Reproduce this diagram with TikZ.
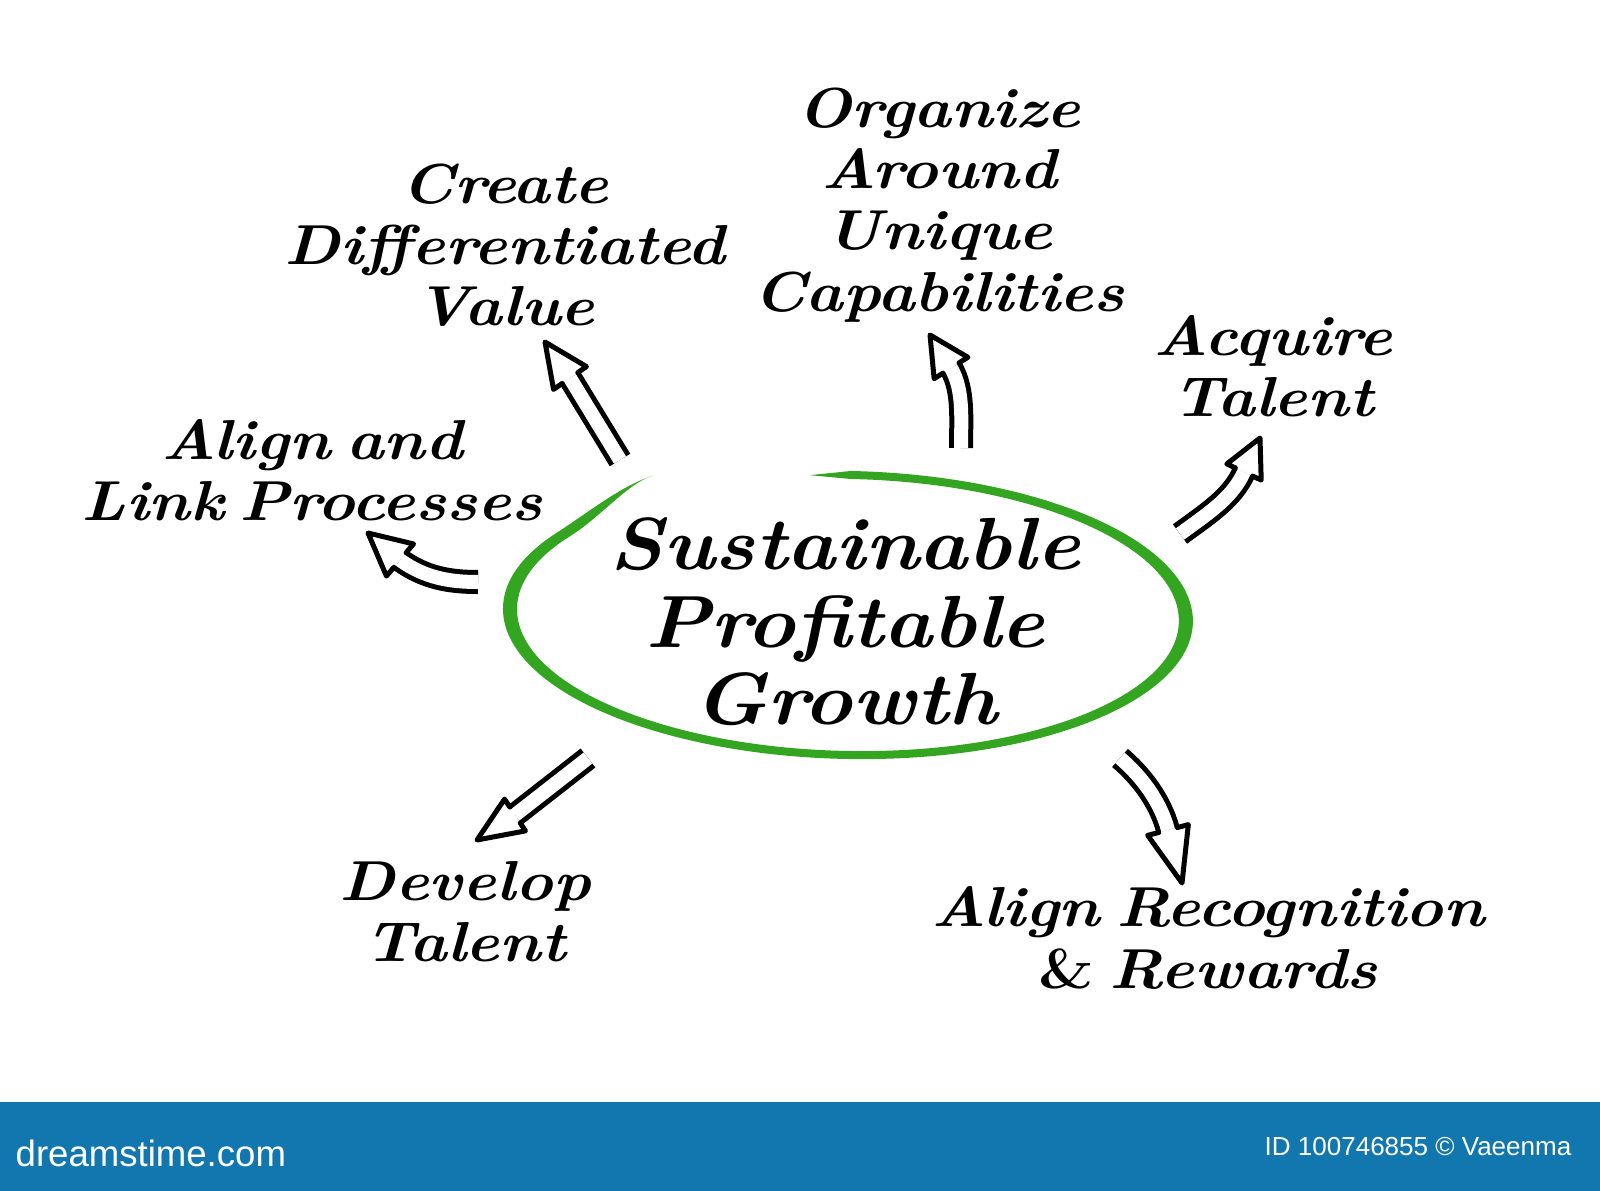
\documentclass[tikz,border=0pt]{standalone}
\usepackage{fontspec}
\newfontfamily\barfont{Liberation Sans}
\newfontfamily\handfont{Latin Modern Roman}[FakeStretch=1.13,WordSpace=0.6]
\newfontfamily\corefont{Latin Modern Roman}[FakeStretch=1.12,WordSpace=0.7]
\usetikzlibrary{calc}
\definecolor{ringgreen}{RGB}{52,165,32}
\definecolor{barblue}{RGB}{17,119,174}
\tikzset{
  txt/.style={align=center, inner sep=0pt, font=\handfont\fontsize{16}{17.4}\selectfont\bfseries\itshape},
  coretxt/.style={align=center, inner sep=0pt, font=\corefont\fontsize{21}{22}\selectfont\bfseries\itshape},
  shaft/.style={line width=0.05cm, double=white, double distance=0.14cm},
  headline/.style={line width=0.05cm, line join=round, line cap=round},
  bartxt/.style={inner sep=0pt, text=white, font=\barfont\fontsize{10.4}{12}\selectfont},
  credittxt/.style={inner sep=0pt, text=white, font=\barfont\fontsize{7.4}{9}\selectfont},
}
\newcommand\hollowhead[3]{%
  \fill[white] ($(#1)!#3!90:(#2)$) -- (#2) -- ($(#1)!#3!-90:(#2)$) -- cycle;
  \draw[headline] ($(#1)!0.095cm!90:(#2)$) -- ($(#1)!#3!90:(#2)$) -- (#2)
     -- ($(#1)!#3!-90:(#2)$) -- ($(#1)!0.095cm!-90:(#2)$);
}
\begin{document}
\begin{tikzpicture}[x=0.01cm, y=-0.01cm]
\useasboundingbox (0,0) rectangle (1600,1191);
\fill[white] (0,0) rectangle (1600,1191);
\fill[barblue] (0,1102) rectangle (1600,1191);

% green ring
\coordinate (rc) at (848,615);
\coordinate (ringend) at (652,476);
\fill[ringgreen, rotate around={-1.2:(rc)}]
  (ringend) .. controls (618,491) and (586,518) .. ($(rc)+(212:345 and 144)$)
  arc[start angle=212, end angle=-90, x radius=345, y radius=144]
  -- ($(rc)+(-97:338 and 140)$) -- ($(rc)+(-90:331 and 136)$)
  arc[start angle=-90, end angle=212, x radius=331, y radius=136]
  .. controls (598,523) and (625,488) .. (ringend) -- cycle;

% text nodes
\node[txt] (create) at (505,245) {Create\\Differentiated\\Value};
\node[txt] (organize) at (939,205) {Organize\\Around\\Unique\\Capabilities};
\node[txt] (acquire) at (1273,366) {Acquire\\Talent};
\node[txt] (alignlink) at (312,470) {Align and\\Link Processes};
\node[coretxt] (core) at (845,622) {Sustainable\\Profitable\\Growth};
\node[txt] (develop) at (465,912) {Develop\\Talent};
\node[txt] (recog) at (1208,938) {Align Recognition\\{\upshape\&} Rewards};

% arrow coordinates
\coordinate (a1t) at (620,460); \coordinate (a1b) at (570,378); \coordinate (a1p) at (545,342);
\coordinate (a2t) at (961,448); \coordinate (a2b) at (951,368); \coordinate (a2p) at (930,335);
\coordinate (a3t) at (1180,534); \coordinate (a3b) at (1244,472); \coordinate (a3p) at (1260,438);
\coordinate (a4t) at (478,582); \coordinate (a4b) at (400,560); \coordinate (a4p) at (368,533);
\coordinate (a5t) at (588,758); \coordinate (a5b) at (515,815); \coordinate (a5p) at (477,840);
\coordinate (a6t) at (1120,758); \coordinate (a6b) at (1168,830); \coordinate (a6p) at (1182,883);

% arrows
\draw[shaft] (a1t) -- (a1b);
\hollowhead{a1b}{a1p}{0.2cm}
\draw[shaft] (a2t) .. controls (961,420) and (964,390) .. (a2b);
\hollowhead{a2b}{a2p}{0.2cm}
\draw[shaft] (a3t) .. controls (1210,512) and (1232,498) .. (a3b);
\hollowhead{a3b}{a3p}{0.19cm}
\draw[shaft] (a4t) .. controls (450,582) and (425,578) .. (a4b);
\hollowhead{a4b}{a4p}{0.21cm}
\draw[shaft] (a5t) -- (a5b);
\hollowhead{a5b}{a5p}{0.19cm}
\draw[shaft] (a6t) .. controls (1140,775) and (1160,800) .. (a6b);
\hollowhead{a6b}{a6p}{0.21cm}

% bottom bar texts
\node[bartxt, anchor=west] (site) at (15,1153) {dreamstime.com};
\node[credittxt, anchor=east] (credit) at (1572,1147) {ID 100746855 © Vaeenma};
\end{tikzpicture}
\end{document}
